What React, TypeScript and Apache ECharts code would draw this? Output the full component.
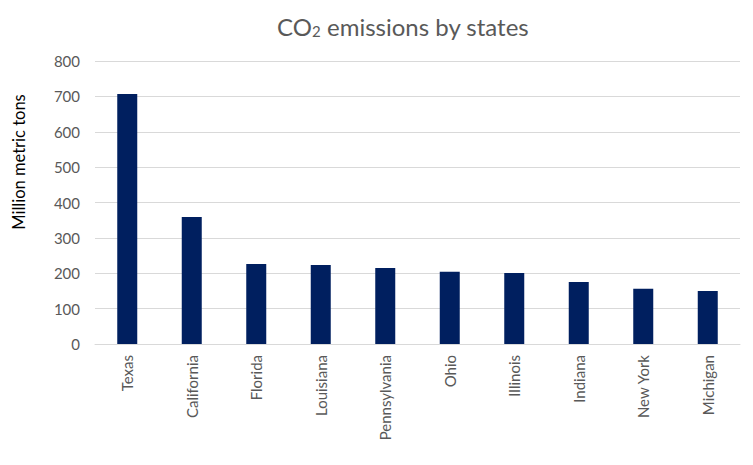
import React, { useEffect, useRef } from "react";
import * as echarts from "echarts";

const states = [
  "Texas",
  "California",
  "Florida",
  "Louisiana",
  "Pennsylvania",
  "Ohio",
  "Illinois",
  "Indiana",
  "New York",
  "Michigan",
];
const emissions = [707, 359, 226, 223, 215, 204, 201, 175, 156, 150];
const yTicks = { min: 0, max: 800, interval: 100 };

const FONT = "Lato, 'Noto Sans', sans-serif";
const TEXT = "#595959";

export default function App() {
  const ref = useRef<HTMLDivElement>(null);

  useEffect(() => {
    if (!ref.current) return;
    const chart = echarts.init(ref.current, undefined, { renderer: "svg" });
    chart.setOption({
      animation: false,
      backgroundColor: "#ffffff",
      title: {
        text: "CO{sub|2} emissions by states",
        left: 398,
        top: 9,
        textAlign: "center",
        textStyle: {
          fontFamily: FONT,
          fontSize: 24,
          fontWeight: "normal",
          color: TEXT,
          rich: {
            sub: {
              fontFamily: FONT,
              fontSize: 15,
              color: TEXT,
              verticalAlign: "bottom",
              padding: [9, 0, 0, 0],
            },
          },
        },
      },
      graphic: [
        {
          type: "text",
          x: 19,
          y: 162,
          rotation: Math.PI / 2,
          style: {
            text: "Million metric tons",
            fontFamily: FONT,
            fontSize: 16.5,
            fill: "#000000",
            align: "center",
            verticalAlign: "middle",
          },
        },
      ],
      grid: { left: 95, right: 13, top: 61, bottom: 121 },
      xAxis: {
        type: "category",
        data: states,
        axisLine: { lineStyle: { color: "#d9d9d9", width: 1 } },
        axisTick: { show: false },
        axisLabel: {
          rotate: 90,
          margin: 11,
          fontFamily: FONT,
          fontSize: 15,
          color: TEXT,
        },
      },
      yAxis: {
        type: "value",
        min: yTicks.min,
        max: yTicks.max,
        interval: yTicks.interval,
        axisLine: { show: false },
        axisTick: { show: false },
        splitLine: { lineStyle: { color: "#d9d9d9", width: 1 } },
        axisLabel: {
          margin: 15,
          fontFamily: FONT,
          fontSize: 15,
          color: TEXT,
        },
      },
      series: [
        {
          type: "bar",
          data: emissions,
          barWidth: 20,
          itemStyle: { color: "#001F5F" },
        },
      ],
    });
    return () => chart.dispose();
  }, []);

  return <div ref={ref} style={{ width: 753, height: 465, position: "fixed", left: 0, top: 0 }} />;
}
